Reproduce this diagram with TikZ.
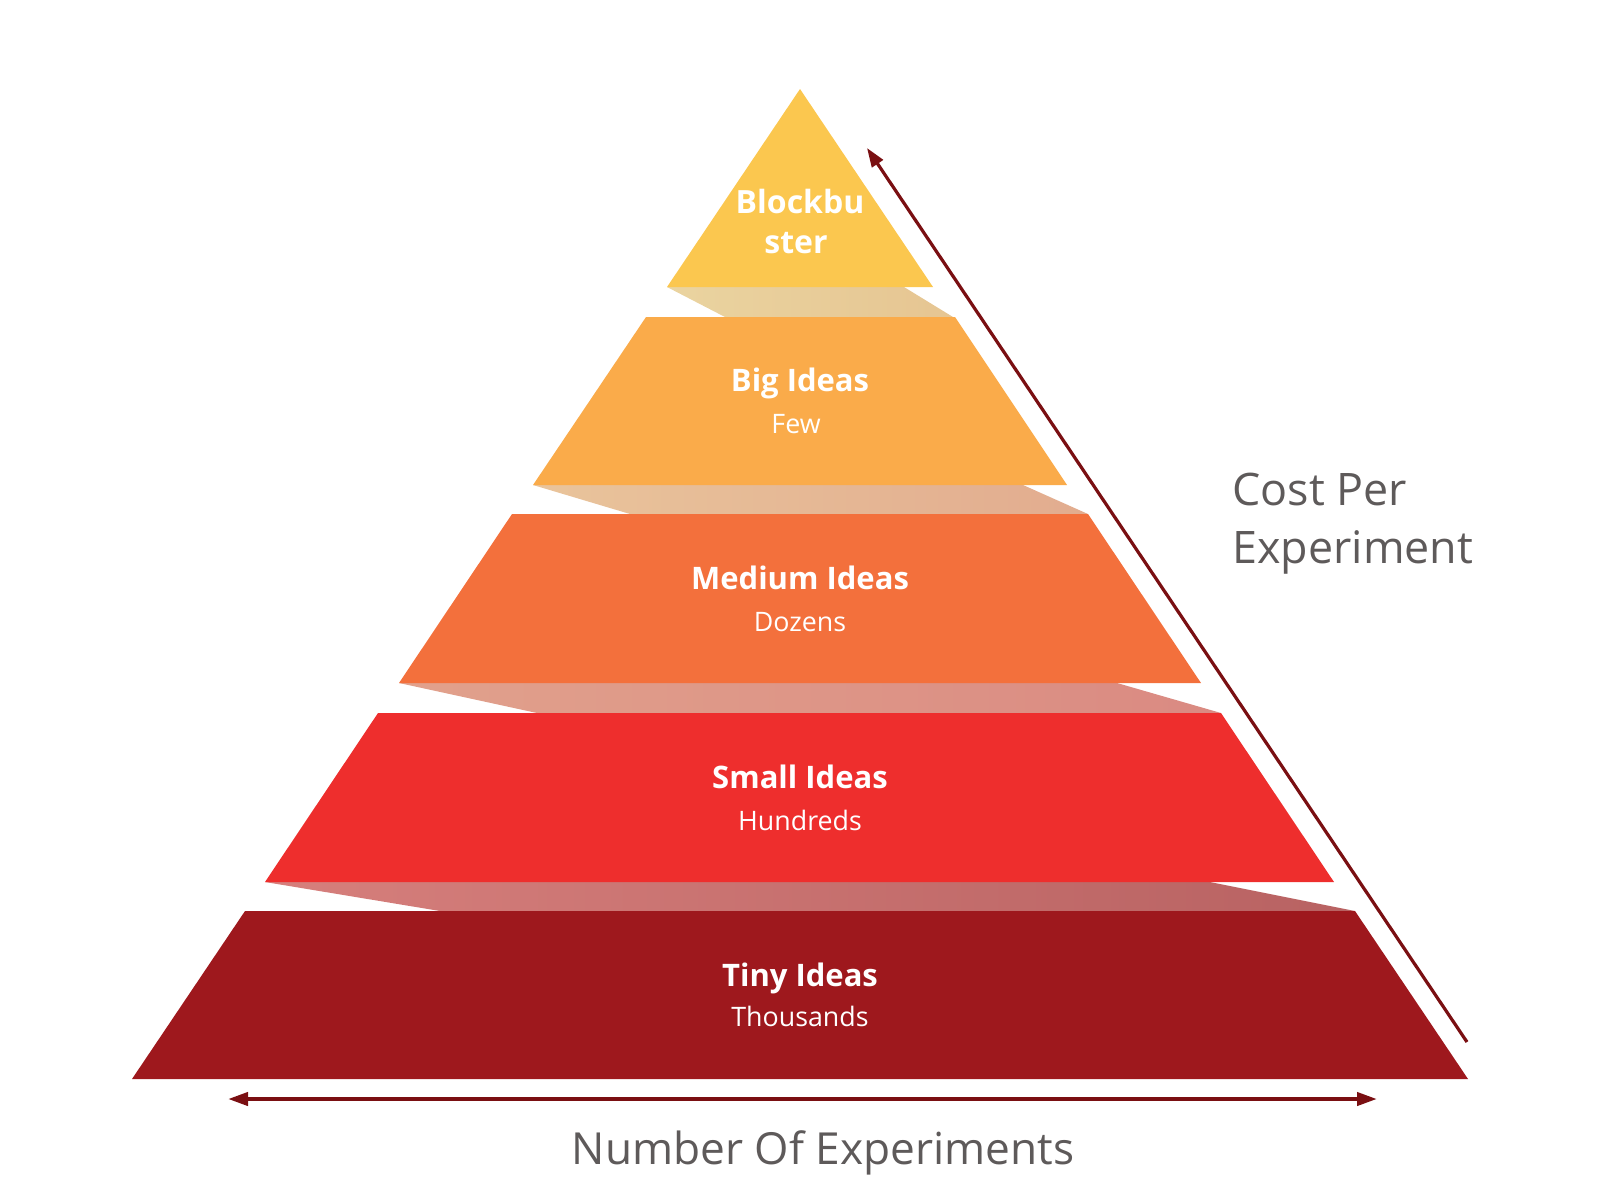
\documentclass[tikz,border=0pt]{standalone}
\usepackage{fontspec}
\setmainfont{Open Sans}
\usetikzlibrary{arrows.meta}
\definecolor{blockcol}{HTML}{FBC74F}
\definecolor{bigcol}{HTML}{FAAB4A}
\definecolor{mediumcol}{HTML}{F3703C}
\definecolor{smallcol}{HTML}{EE2E2D}
\definecolor{tinycol}{HTML}{9E181D}
\definecolor{shadeAl}{HTML}{EAD4A0}
\definecolor{shadeAr}{HTML}{E6C592}
\definecolor{shadeBl}{HTML}{E9C49B}
\definecolor{shadeBr}{HTML}{E2AC8F}
\definecolor{shadeCl}{HTML}{E1A18C}
\definecolor{shadeCr}{HTML}{DA8A82}
\definecolor{shadeDl}{HTML}{D67F7C}
\definecolor{shadeDr}{HTML}{B86262}
\definecolor{arrowcol}{HTML}{7A0F12}
\definecolor{axisgray}{HTML}{5E5A5A}
\begin{document}
\begin{tikzpicture}[x=0.5pt,y=-0.5pt,
 title/.style={text=white,font=\bfseries\fontsize{15.5}{18}\selectfont,anchor=base,inner sep=0pt},
 sub/.style={text=white,font=\fontsize{13.4}{16}\selectfont,anchor=base,inner sep=0pt},
 axis/.style={text=axisgray,font=\fontsize{22.1}{26}\selectfont,inner sep=0pt},
 axisarrow/.style={draw=arrowcol,line width=1.6pt,-{Triangle[length=9.5pt,width=6.5pt]}}]
 \useasboundingbox (0,0) rectangle (1600,1200);
 % shadows between the layers
 \shade[left color=shadeAl,right color=shadeAr](667,287)--(904,287)--(953,317)--(725,317)--cycle;
 \shade[left color=shadeBl,right color=shadeBr](533,485)--(1023,485)--(1088,514)--(630,514)--cycle;
 \shade[left color=shadeCl,right color=shadeCr](399,683)--(1117,683)--(1221,713)--(537,713)--cycle;
 \shade[left color=shadeDl,right color=shadeDr](265,882)--(1210,882)--(1355,911)--(440,911)--cycle;
 % layers
 \fill[blockcol](800,89)--(933,287)--(667,287)--cycle;
 \fill[bigcol](646,317)--(955,317)--(1067,485)--(533,485)--cycle;
 \fill[mediumcol](512,514)--(1088,514)--(1201,683)--(399,683)--cycle;
 \fill[smallcol](378,713)--(1221,713)--(1334,882)--(265,882)--cycle;
 \fill[tinycol](245,911)--(1355,911)--(1468,1079)--(132,1079)--cycle;
 % labels
 \node[title,font=\bfseries\fontsize{16}{19}\selectfont] (block) at (800,213) {Blockbu};
 \node[title,font=\bfseries\fontsize{16}{19}\selectfont] (blockend) at (796,253) {ster};
 \node[title] (big) at (800,391) {Big Ideas};
 \node[sub] (bigsub) at (796,433) {Few};
 \node[title] (medium) at (800,589) {Medium Ideas};
 \node[sub] (mediumsub) at (800,631) {Dozens};
 \node[title] (small) at (800,788) {Small Ideas};
 \node[sub] (smallsub) at (800,830) {Hundreds};
 \node[title] (tiny) at (800,986) {Tiny Ideas};
 \node[sub] (tinysub) at (800,1026) {Thousands};
 % axes
 \coordinate (costfoot) at (1467,1042);
 \coordinate (costtip) at (867,148);
 \draw[axisarrow] (costfoot) -- (costtip);
 \coordinate (numleft) at (228,1099);
 \coordinate (numright) at (1377,1099);
 \draw[axisarrow,line width=2pt,{Triangle[length=10pt,width=6.5pt]}-{Triangle[length=10pt,width=6.5pt]}] (numleft) -- (numright);
 \node[axis,anchor=base west,font=\fontsize{22.4}{27}\selectfont] (cost) at (1232,505) {Cost Per};
 \node[axis,anchor=base west,font=\fontsize{22.4}{27}\selectfont] (costexp) at (1232,563) {Experiment};
 \node[axis,anchor=base] (number) at (823,1164) {Number Of Experiments};
\end{tikzpicture}
\end{document}
